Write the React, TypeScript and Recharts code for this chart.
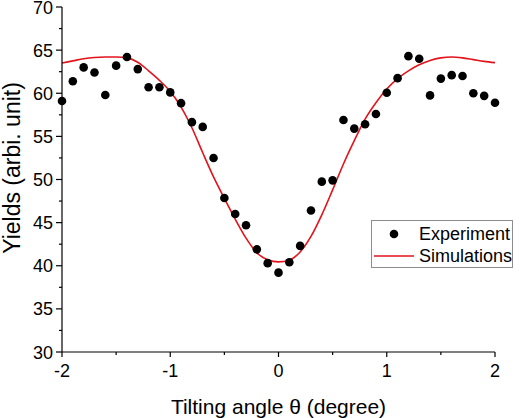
import React from 'react';
import { ComposedChart, Line, Scatter, XAxis, YAxis, Legend } from 'recharts';

const angles = [
  -2.0, -1.9, -1.8, -1.7, -1.6, -1.5, -1.4, -1.3, -1.2, -1.1, -1.0,
  -0.9, -0.8, -0.7, -0.6, -0.5, -0.4, -0.3, -0.2, -0.1, 0.0,
  0.1, 0.2, 0.3, 0.4, 0.5, 0.6, 0.7, 0.8, 0.9, 1.0,
  1.1, 1.2, 1.3, 1.4, 1.5, 1.6, 1.7, 1.8, 1.9, 2.0,
];

const experiment = [
  59.1, 61.4, 63.0, 62.4, 59.8, 63.2, 64.2, 62.8, 60.7, 60.7, 60.1,
  58.85, 56.65, 56.1, 52.5, 47.85, 46.0, 44.7, 41.9, 40.3, 39.2,
  40.4, 42.3, 46.4, 49.75, 49.9, 56.9, 55.9, 56.4, 57.6, 60.05,
  61.75, 64.3, 64.0, 59.75, 61.7, 62.1, 62.0, 60.0, 59.7, 58.9,
];

const simulation = [
  63.5, 63.75, 64.0, 64.15, 64.2, 64.2, 64.1, 63.6, 62.6, 61.5, 60.2,
  58.4, 56.0, 53.1, 50.3, 47.8, 45.4, 43.2, 41.5, 40.7, 40.45,
  40.65, 41.6, 43.4, 45.9, 48.8, 51.8, 54.5, 57.0, 58.9, 60.5,
  61.7, 62.6, 63.3, 63.8, 64.1, 64.2, 64.1, 63.9, 63.7, 63.55,
];

const xTicks = [-2, -1.5, -1, -0.5, 0, 0.5, 1, 1.5, 2];
const xMajor = [-2, -1, 0, 1, 2];
const yTicks = [30, 32.5, 35, 37.5, 40, 42.5, 45, 47.5, 50, 52.5, 55, 57.5, 60, 62.5, 65, 67.5, 70];
const yMajor = [30, 35, 40, 45, 50, 55, 60, 65, 70];

const data = angles.map((x, i) => ({ x, exp: experiment[i], sim: simulation[i] }));

const FONT = '"Liberation Sans", Arial, Helvetica, sans-serif';
const RED = '#e3131b';

const XTick = (props: any) => {
  const { x, y, payload } = props;
  const major = xMajor.includes(payload.value);
  return (
    <g>
      <line x1={x} x2={x} y1={y} y2={y + (major ? 5 : 3)} stroke="#000" strokeWidth={1.2} />
      {major && (
        <text x={x} y={y + 24.5} textAnchor="middle" fontSize={18} fontFamily={FONT} fill="#000">
          {String(payload.value)}
        </text>
      )}
    </g>
  );
};

const YTick = (props: any) => {
  const { x, y, payload } = props;
  const major = yMajor.includes(payload.value);
  return (
    <g>
      <line x1={x - (major ? 6 : 3)} x2={x} y1={y} y2={y} stroke="#000" strokeWidth={1.2} />
      {major && (
        <text x={x - 9} y={y + 6.5} textAnchor="end" fontSize={18} fontFamily={FONT} fill="#000">
          {String(payload.value)}
        </text>
      )}
    </g>
  );
};

const Dot = (props: any) => <circle cx={props.cx} cy={props.cy} r={4.3} fill="#000" />;

const LegendBox = () => (
  <div
    style={{
      width: 142,
      height: 48,
      boxSizing: 'border-box',
      border: '1px solid #8c8c8c',
      background: '#fff',
      position: 'relative',
      fontFamily: FONT,
      fontSize: 18,
      color: '#000',
    }}
  >
    <svg width={46} height={46} style={{ position: 'absolute', left: 0, top: 0 }}>
      <circle cx={22} cy={13} r={4.3} fill="#000" />
      <line x1={2} x2={42} y1={35} y2={35} stroke={RED} strokeWidth={1.6} />
    </svg>
    <div style={{ position: 'absolute', left: 47, top: 2, lineHeight: '22px', whiteSpace: 'nowrap' }}>Experiment</div>
    <div style={{ position: 'absolute', left: 47, top: 24, lineHeight: '22px', whiteSpace: 'nowrap' }}>Simulations</div>
  </div>
);

export default function App() {
  return (
    <div style={{ position: 'absolute', left: 0, top: 0, width: 520, height: 418, background: '#fff' }}>
      <ComposedChart width={520} height={418} data={data} margin={{ top: 7, right: 25, bottom: 0, left: 0 }}>
        <XAxis
          type="number"
          dataKey="x"
          domain={[-2, 2]}
          ticks={xTicks}
          interval={0}
          height={66}
          tickSize={0}
          tickMargin={0}
          tickLine={false}
          axisLine={{ stroke: '#000', strokeWidth: 1.2 }}
          tick={<XTick />}
          label={{
            value: 'Tilting angle θ (degree)',
            position: 'insideBottom',
            offset: 4.5,
            fontSize: 21,
            fontFamily: FONT,
            fill: '#000',
          }}
        />
        <YAxis
          type="number"
          domain={[30, 70]}
          ticks={yTicks}
          interval={0}
          width={62}
          tickSize={0}
          tickMargin={0}
          tickLine={false}
          axisLine={{ stroke: '#000', strokeWidth: 1.2 }}
          tick={<YTick />}
          label={{
            content: () => (
              <text
                x={0}
                y={0}
                transform="translate(20,168) rotate(-90)"
                textAnchor="middle"
                fontSize={23}
                fontFamily={FONT}
                fill="#000"
              >
                Yields (arbi. unit)
              </text>
            ),
          }}
        />
        <Line
          type="monotone"
          dataKey="sim"
          stroke={RED}
          strokeWidth={1.6}
          dot={false}
          isAnimationActive={false}
        />
        <Scatter dataKey="exp" fill="#000" shape={<Dot />} isAnimationActive={false} />
        <Legend
          layout="horizontal"
          verticalAlign="middle"
          align="center"
          content={() => <LegendBox />}
          wrapperStyle={{ position: 'absolute', left: 371, top: 220, width: 142, height: 48 }}
        />
      </ComposedChart>
    </div>
  );
}
